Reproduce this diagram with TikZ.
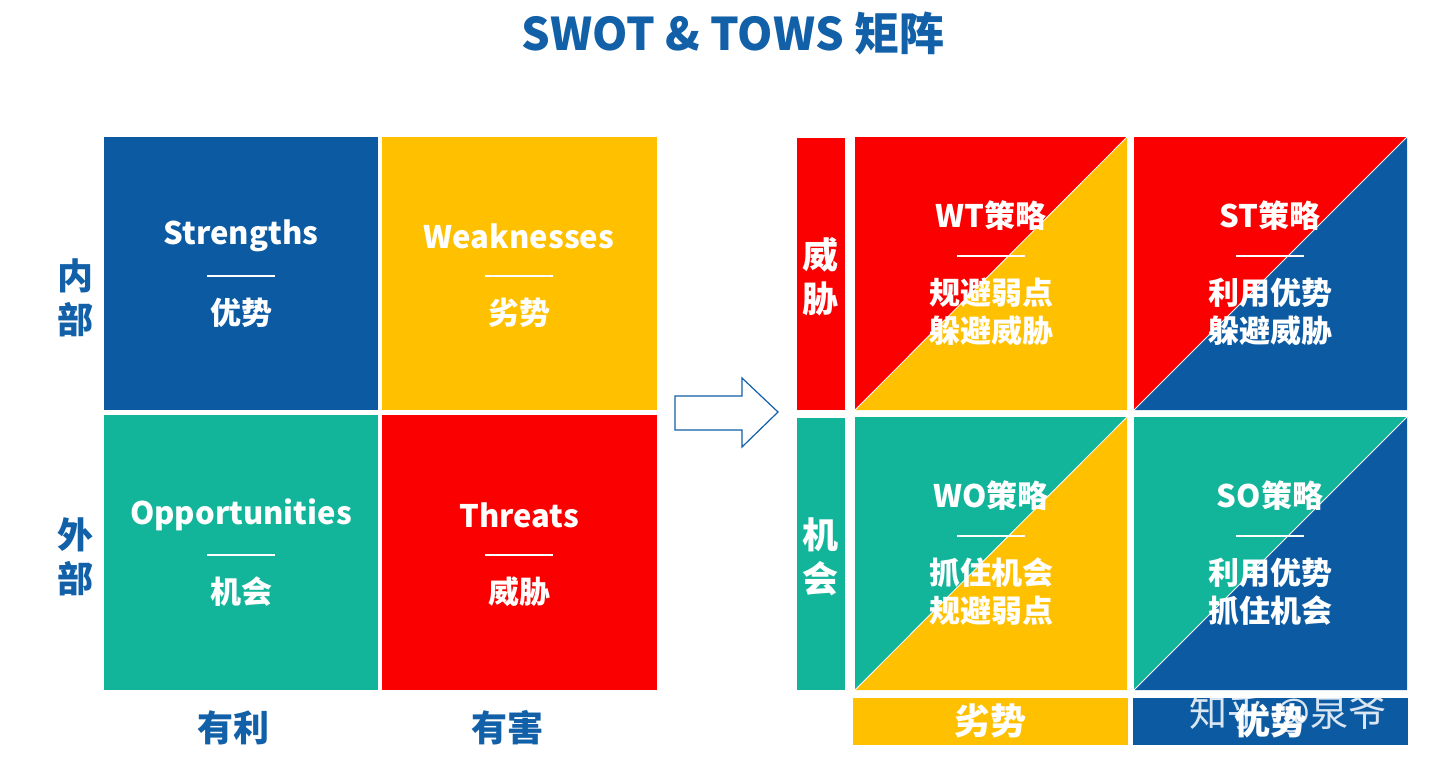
\documentclass[tikz,border=0pt]{standalone}
\usepackage{fontspec}
\setmainfont{Noto Sans CJK SC}
\definecolor{cb}{HTML}{0B5AA2}
\definecolor{cy}{HTML}{FFC000}
\definecolor{cg}{HTML}{13B59A}
\definecolor{cr}{HTML}{FA0000}
\definecolor{ct}{HTML}{1160A8}
\tikzset{
 t1/.style={text=white,font=\fontsize{31}{33}\selectfont\bfseries},
 side/.style={text=ct,font=\fontsize{36}{44}\selectfont\bfseries,align=center},
 wside/.style={text=white,font=\fontsize{36}{44}\selectfont\bfseries,align=center},
 wl/.style={white,line width=2.5pt}
}
\begin{document}
\begin{tikzpicture}[x=1pt,y=-1pt]
\useasboundingbox[fill=white] (0,0) rectangle (1440,776);
\node[text=ct,font=\fontsize{45}{47}\selectfont\bfseries] (title) at (733,33) {SWOT \& TOWS 矩阵};
% left grid
\fill[cb] (104,137) rectangle (378,410);
\fill[cy] (382,137) rectangle (657,410);
\fill[cg] (104,415) rectangle (378,690);
\fill[cr] (382,415) rectangle (657,690);
\foreach \x/\y/\a/\b in {241/0/Strengths/优势,519/0/Weaknesses/劣势,241/279/Opportunities/机会,519/279/Threats/威胁}{
 \node[t1] at (\x,236+\y) {\a};
 \draw[wl] (\x-34,276+\y) -- (\x+34,276+\y);
 \node[t1] at (\x,313+\y) {\b};
}
\node[side] (nb) at (75,298) {内\\部};
\node[side] (wb) at (75,557) {外\\部};
\node[side] (yl) at (233,728) {有利};
\node[side] (yh) at (507,728) {有害};
% arrow
\draw[ct,line width=1.2pt,fill=white] (675,396) -- (742,396) -- (742,378) -- (778,412) -- (742,447) -- (742,430) -- (675,430) -- cycle;
% right side bars
\fill[cr] (797,138) rectangle (845,410);
\fill[cg] (797,418) rectangle (845,690);
\node[wside] (wx) at (820,277) {威\\胁};
\node[wside] (jh) at (820,557) {机\\会};
% right cells
\foreach \xa/\xb/\ya/\yb/\cu/\cl in {855/1127/137/410/cr/cy,1134/1407/137/410/cr/cb,855/1127/417/690/cg/cy,1134/1407/417/690/cg/cb}{
 \fill[\cu] (\xa,\ya) -- (\xb,\ya) -- (\xa,\yb) -- cycle;
 \fill[\cl] (\xb,\ya) -- (\xb,\yb) -- (\xa,\yb) -- cycle;
 \draw[white,line width=0.8pt] (\xa,\yb) -- (\xb,\ya);
}
\foreach \x/\y/\a/\b/\c in {991/0/WT策略/规避弱点/躲避威胁,1270/0/ST策略/利用优势/躲避威胁,991/280/WO策略/抓住机会/规避弱点,1270/280/SO策略/利用优势/抓住机会}{
 \node[t1] at (\x,216+\y) {\a};
 \draw[wl] (\x-34,256+\y) -- (\x+34,256+\y);
 \node[t1] at (\x,293+\y) {\b};
 \node[t1] at (\x,331+\y) {\c};
}
\fill[cy] (853,698) rectangle (1128,745);
\fill[cb] (1133,698) rectangle (1408,745);
\node[wside] (ls) at (990,721) {劣势};
\node[wside] (ys) at (1270,721) {优势};
\node[text=white,opacity=0.85,font=\fontsize{38}{40}\selectfont] (wm) at (1288,714) {知乎 @泉爷};
\end{tikzpicture}
\end{document}
